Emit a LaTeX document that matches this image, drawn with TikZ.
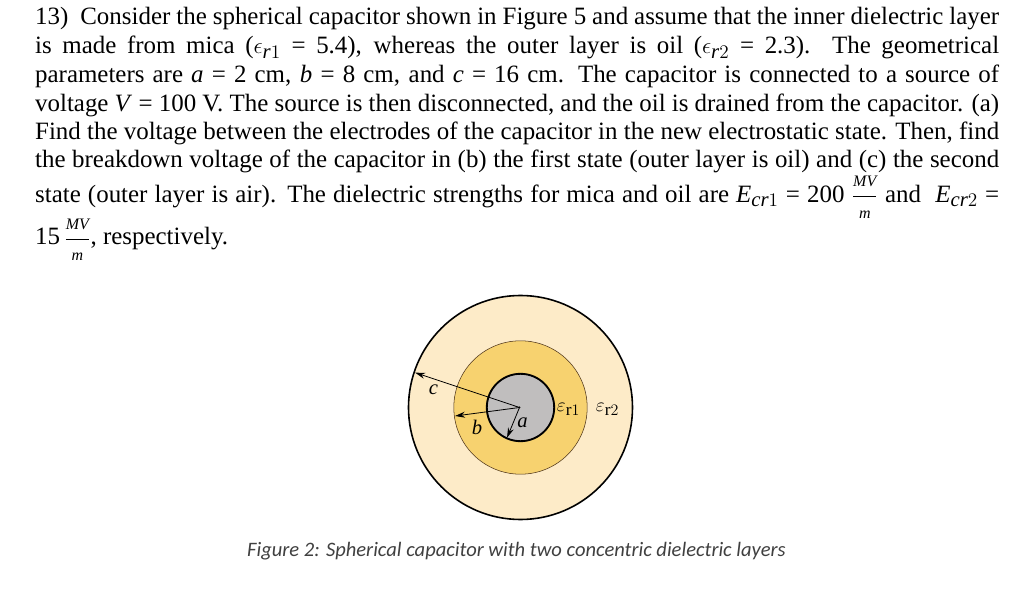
\documentclass[tikz,border=0pt]{standalone}
\usepackage{fontspec}
\setmainfont{Liberation Serif}
\newfontfamily\capfont{Carlito}
\usepackage[italic]{mathastext}
\usepackage{xcolor}
\usetikzlibrary{arrows.meta}

\definecolor{oilcolor}{HTML}{FDEBC8}
\definecolor{micacolor}{HTML}{F7D26F}
\definecolor{metalcolor}{HTML}{C0BEBE}
\definecolor{captioncolor}{HTML}{404040}

\newcommand{\fullline}[1]{\makebox[723pt][s]{#1}}
\newcommand{\smallunit}[1]{\hbox{\fontsize{12pt}{12pt}\selectfont\itshape #1}}
\newcommand{\strengthunit}{$\displaystyle\frac{\smallunit{MV}}{\smallunit{m}}$}

\tikzset{
    textline/.style = {anchor=base west, inner sep=0pt, font=\fontsize{18.7pt}{23pt}\selectfont},
    radius line/.style = {-{Stealth[length=7.5pt, width=4.5pt]}, color=black, line width=0.6pt},
    layer label/.style = {inner sep=0pt, font=\fontsize{15.5pt}{18pt}\selectfont}
}

\begin{document}
\begin{tikzpicture}[x=0.75pt, y=0.75pt, line width=1pt]
    \useasboundingbox (-520.5, -202.5) rectangle (503.5, 407.5);

    % draw problem text
    \node[textline] (line1) at (-486, 382.5) {\fullline{13)\ \ Consider the spherical capacitor shown in Figure 5 and assume that the inner dielectric layer}};
    \node[textline] (line2) at (-486, 353.5) {\fullline{is made from mica ($\epsilon_{r1}$ = 5.4), whereas the outer layer is oil ($\epsilon_{r2}$ = 2.3). The geometrical}};
    \node[textline] (line3) at (-486, 325) {\fullline{parameters are \textit{a} = 2 cm, \textit{b} = 8 cm, and \textit{c} = 16 cm. The capacitor is connected to a source of}};
    \node[textline] (line4) at (-486, 296) {\fullline{voltage \textit{V} = 100 V. The source is then disconnected, and the oil is drained from the capacitor. (a)}};
    \node[textline] (line5) at (-486, 268) {\fullline{Find the voltage between the electrodes of the capacitor in the new electrostatic state. Then, find}};
    \node[textline] (line6) at (-486, 239.5) {\fullline{the breakdown voltage of the capacitor in (b) the first state (outer layer is oil) and (c) the second}};
    \node[textline] (line7) at (-486, 205) {\fullline{state (outer layer is air). The dielectric strengths for mica and oil are $E_{cr1}$ = 200 \strengthunit{} and\ \ $E_{cr2}$ =}};
    \node[textline] (line8) at (-486, 162.5) {15\,\strengthunit, respectively.};

    % draw dielectric layers and electrode
    \filldraw[color=black, fill=oilcolor, line width=1.2pt] (0, 0) circle (112);
    \filldraw[color=black!60!brown, fill=micacolor, line width=0.4pt] (0, 0) circle (66.7);
    \filldraw[color=black, fill=metalcolor, line width=1.4pt] (0, 0) circle (33.7);

    % draw radii from the center
    \coordinate (center) at (-1, 0);
    \coordinate (tipa) at (246 : 33);
    \coordinate (tipb) at (187.4 : 66);
    \coordinate (tipc) at (161.7 : 111);
    \fill[color=black] (center) circle (1);
    \draw[radius line] (center) -- (tipa);
    \draw[radius line] (center) -- (tipb);
    \draw[radius line] (center) -- (tipc);

    % draw labels
    \node[layer label] (labela) at (2, -15) {$a$};
    \node[layer label] (labelb) at (-43.5, -19.5) {$b$};
    \node[layer label] (labelc) at (-87, 17.5) {$c$};
    \node[layer label] (labelr1) at (48, -2) {$\varepsilon_{\mathrm{r}1}$};
    \node[layer label] (labelr2) at (87, -2) {$\varepsilon_{\mathrm{r}2}$};

    % draw caption
    \node[anchor=base, inner sep=0pt, color=captioncolor, font=\capfont\itshape\fontsize{15.4pt}{18pt}\selectfont] (caption) at (-4, -149) {Figure 2: Spherical capacitor with two concentric dielectric layers};
\end{tikzpicture}
\end{document}
